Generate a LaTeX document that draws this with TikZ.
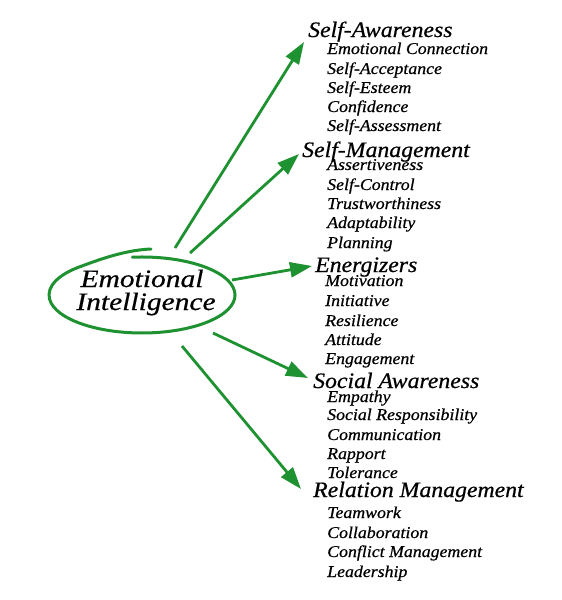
\documentclass[tikz,border=0pt]{standalone}
\usepackage{fontspec}
\setmainfont{Liberation Serif}
\newfontfamily\eitext[FakeStretch=1.08, FakeBold=0.6]{Liberation Serif}
\newfontfamily\eititle[FakeStretch=1.18, FakeBold=0.6]{Liberation Serif}
\usetikzlibrary{shapes.geometric,arrows.meta}
\definecolor{eigreen}{RGB}{30,145,48}
\tikzset{
  arr/.style={draw=eigreen, line width=2.8pt, -{Triangle[length=22pt,width=15pt]}},
  head/.style={anchor=base west, inner sep=0pt, font=\fontsize{22}{22}\eitext\itshape},
  item/.style={anchor=base west, inner sep=0pt, font=\fontsize{16.5}{16}\eitext\itshape},
  title/.style={anchor=base, inner sep=0pt, font=\fontsize{25}{25}\eititle\itshape},
  ring/.style={draw=eigreen, line width=3pt, line cap=round}
}
\begin{document}
\begin{tikzpicture}[x=1pt,y=-1pt]
\useasboundingbox (0,0) rectangle (562,600);
% central ellipse (hand-drawn spiral ring)
\node[ellipse, minimum width=186pt, minimum height=76pt, inner sep=0pt] (ei) at (142,295) {};
\coordinate (w0) at (132.3,257.2);
\coordinate (w1) at (82.2,265.9);
\coordinate (w2) at (151,249);
\draw[ring] (w0) arc[start angle=-96, end angle=230, x radius=93, y radius=38]
  .. controls (106,257) and (128,250) .. (w2);
\node[title] (t1) at (142,287) {Emotional};
\node[title] (t2) at (146,310) {Intelligence};
% arrow ends
\coordinate (s1) at (175,248); \coordinate (e1) at (304,42);
\coordinate (s2) at (190,253); \coordinate (e2) at (299,154);
\coordinate (s3) at (232,280); \coordinate (e3) at (312,266);
\coordinate (s4) at (213,333); \coordinate (e4) at (308,378);
\coordinate (s5) at (182,346); \coordinate (e5) at (301,489);
\draw[arr] (s1) -- (e1);
\draw[arr] (s2) -- (e2);
\draw[arr] (s3) -- (e3);
\draw[arr] (s4) -- (e4);
\draw[arr] (s5) -- (e5);
% headings
\node[head] (h1) at (308,37) {Self-Awareness};
\node[head] (h2) at (302,157) {Self-Management};
\node[head] (h3) at (315,272) {Energizers};
\node[head] (h4) at (313,388) {Social Awareness};
\node[head] (h5) at (313,497) {Relation Management};
% items
\node[item] (a1) at (327,54) {Emotional Connection};
\node[item] (a2) at (327,74) {Self-Acceptance};
\node[item] (a3) at (327,93) {Self-Esteem};
\node[item] (a4) at (327,112) {Confidence};
\node[item] (a5) at (327,131) {Self-Assessment};
\node[item] (b1) at (327,170) {Assertiveness};
\node[item] (b2) at (327,190) {Self-Control};
\node[item] (b3) at (327,209) {Trustworthiness};
\node[item] (b4) at (327,228) {Adaptability};
\node[item] (b5) at (327,248) {Planning};
\node[item] (c1) at (325,286) {Motivation};
\node[item] (c2) at (325,306) {Initiative};
\node[item] (c3) at (325,326) {Resilience};
\node[item] (c4) at (325,345) {Attitude};
\node[item] (c5) at (325,364) {Engagement};
\node[item] (d1) at (327,402) {Empathy};
\node[item] (d2) at (327,420) {Social Responsibility};
\node[item] (d3) at (327,440) {Communication};
\node[item] (d4) at (327,459) {Rapport};
\node[item] (d5) at (327,478) {Tolerance};
\node[item] (f1) at (327,518) {Teamwork};
\node[item] (f2) at (327,538) {Collaboration};
\node[item] (f3) at (327,557) {Conflict Management};
\node[item] (f4) at (327,577) {Leadership};
\end{tikzpicture}
\end{document}
